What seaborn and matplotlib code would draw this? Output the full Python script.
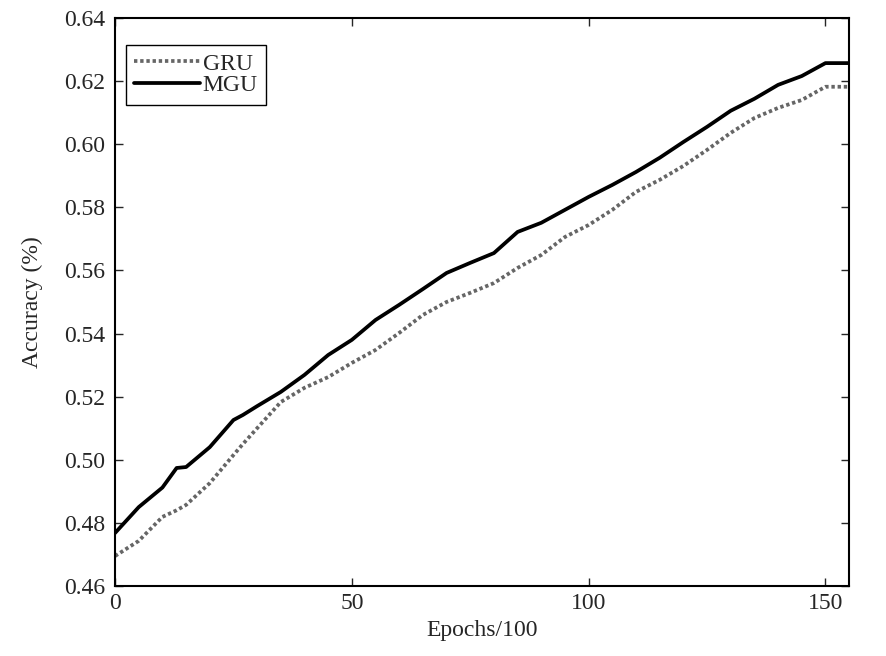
import numpy as np
import pandas as pd
import seaborn as sns
import matplotlib
matplotlib.use("Agg")
import matplotlib.pyplot as plt

# values
epochs = [0, 5, 10, 13, 15, 20, 25, 27, 30, 35, 40, 45, 50, 55, 60, 65, 70, 75,
          80, 85, 90, 95, 100, 105, 110, 115, 120, 125, 130, 135, 140, 145, 150, 155]
mgu = [0.4768, 0.4850, 0.4912, 0.4974, 0.4977, 0.5040, 0.5126, 0.5142, 0.5170,
       0.5215, 0.5269, 0.5332, 0.5380, 0.5443, 0.5491, 0.5541, 0.5592, 0.5624,
       0.5655, 0.5722, 0.5751, 0.5792, 0.5833, 0.5871, 0.5912, 0.5957, 0.6007,
       0.6055, 0.6106, 0.6144, 0.6188, 0.6216, 0.6257, 0.6257]
gru = [0.4695, 0.4743, 0.4819, 0.4840, 0.4857, 0.4926, 0.5015, 0.5050, 0.5100,
       0.5183, 0.5228, 0.5262, 0.5307, 0.5348, 0.5402, 0.5459, 0.5500, 0.5529,
       0.5560, 0.5608, 0.5649, 0.5706, 0.5744, 0.5792, 0.5849, 0.5887, 0.5931,
       0.5982, 0.6036, 0.6083, 0.6115, 0.6140, 0.6182, 0.6182]
yticks = [0.46, 0.48, 0.50, 0.52, 0.54, 0.56, 0.58, 0.60, 0.62, 0.64]

df = pd.concat([
    pd.DataFrame({"Epoch": epochs, "Accuracy": gru, "Model": "GRU"}),
    pd.DataFrame({"Epoch": epochs, "Accuracy": mgu, "Model": "MGU"}),
])

sns.set_style("ticks")
plt.rcParams["font.family"] = "serif"
plt.rcParams["font.serif"] = ["Liberation Serif", "DejaVu Serif"]
FONT = "Liberation Serif"

fig = plt.figure(figsize=(8.87, 6.56), dpi=100)
ax = fig.add_axes([0.1297, 0.1067, 0.8276, 0.8659])

sns.lineplot(data=df, x="Epoch", y="Accuracy", hue="Model", style="Model",
             palette={"GRU": "#666666", "MGU": "black"},
             dashes={"GRU": (0.9, 0.75), "MGU": ""},
             linewidth=2.7, ax=ax)

ax.set_xlim(0, 155)
ax.set_ylim(0.46, 0.64)
ax.set_xticks([0, 50, 100, 150])
ax.set_xticklabels(["0", "50", "100", "150"], family=FONT, fontsize=17)
ax.set_yticks(yticks)
ax.set_yticklabels([f"{v:.2f}" for v in yticks], family=FONT, fontsize=17)
ax.tick_params(direction="in", top=True, right=True, length=6, width=1)
ax.tick_params(axis="y", pad=7)
ax.tick_params(axis="x", pad=5)
for s in ax.spines.values():
    s.set_linewidth(1.5)
    s.set_color("black")
ax.set_xlabel("Epochs/100", family=FONT, fontsize=17, labelpad=4)
ax.set_ylabel("Accuracy (%)", family=FONT, fontsize=17, labelpad=15)

leg = ax.legend(loc="upper left", prop={"family": FONT, "size": 17},
                handlelength=2.8, handletextpad=0.1,
                borderpad=0.35, labelspacing=0.0, fancybox=False,
                bbox_to_anchor=(0.015, 0.9525), borderaxespad=0)
leg.get_frame().set_edgecolor("black")
leg.get_frame().set_linewidth(1.0)
leg.get_frame().set_alpha(1)

fig.savefig("out.png", dpi=100)
